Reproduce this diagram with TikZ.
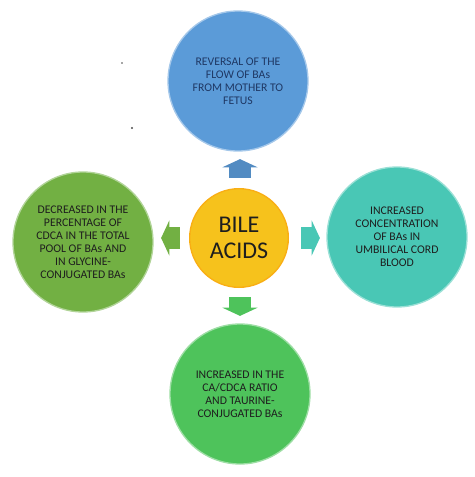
\documentclass[tikz,border=0pt]{standalone}
\usepackage{fontspec}
\setmainfont{Carlito}
\usepackage{tikz}
\usetikzlibrary{shapes,arrows,positioning}

\definecolor{blueball}{HTML}{5B9BD8}
\definecolor{goldball}{HTML}{F6C21C}
\definecolor{leafball}{HTML}{72B043}
\definecolor{tealball}{HTML}{49C7B5}
\definecolor{mintball}{HTML}{4EC35B}
\definecolor{navytext}{HTML}{1F3864}
\definecolor{darktext}{HTML}{1E1E1E}

\tikzset{
	ball/.style={shape=circle, minimum size=105pt, inner sep=0pt, align=center,
		font=\fontsize{8.8}{9.8}\selectfont, text=darktext, line width=1pt},
	blockarrow/.style={single arrow, inner xsep=0pt, inner ysep=8pt, minimum height=14pt,
		single arrow head extend=5pt, single arrow tip angle=130}
}

\begin{document}
\begin{tikzpicture}[x=0.75pt,y=-0.75pt]
	\useasboundingbox (0,0) rectangle (474,477);

	\node[ball, fill=goldball, draw=goldball!70!orange, minimum size=74pt,
		font=\fontsize{18}{20}\selectfont] (0) at (239,238) {BILE\\ACIDS};
	\node[ball, fill=blueball, draw=blueball!55!white, text=navytext] (1) at (238,81)
		{REVERSAL OF THE\\FLOW OF BAs\\FROM MOTHER TO\\FETUS};
	\node[ball, fill=tealball, draw=tealball!55!white] (2) at (397,237)
		{INCREASED\\CONCENTRATION\\OF BAs IN\\UMBILICAL CORD\\BLOOD};
	\node[ball, fill=mintball, draw=mintball!55!white] (3) at (240,394)
		{INCREASED IN THE\\CA/CDCA RATIO\\AND TAURINE-\\CONJUGATED BAs};
	\node[ball, fill=leafball, draw=leafball!55!white] (4) at (83,242)
		{DECREASED IN THE\\PERCENTAGE OF\\CDCA IN THE TOTAL\\POOL OF BAs AND\\IN GLYCINE-\\CONJUGATED BAs};

	\node[blockarrow, fill=blueball!90!black, rotate=90] (up) at (240,171) {};
	\node[blockarrow, fill=tealball] (right) at (308,238) {};
	\node[blockarrow, fill=mintball, rotate=270] (down) at (240,304) {};
	\node[blockarrow, fill=leafball, rotate=180] (left) at (173,238) {};

	\fill[black!70] (122,63) circle (0.8) (132,128) circle (1.1);
\end{tikzpicture}
\end{document}
